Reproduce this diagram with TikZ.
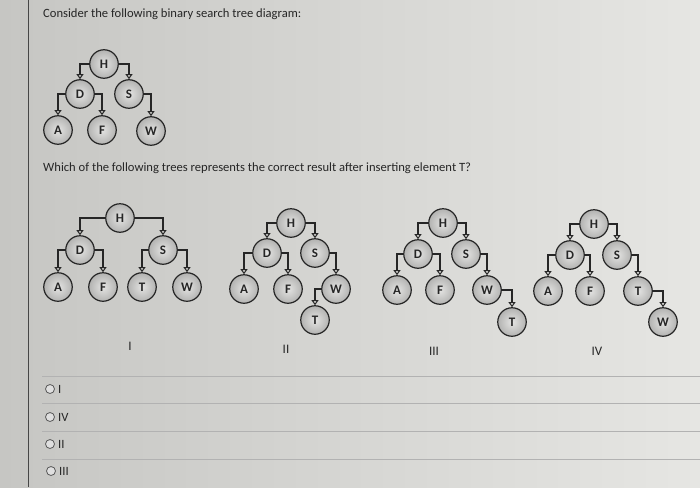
\documentclass[tikz,border=0pt]{standalone}
\usepackage{fontspec}
\setmainfont{Carlito}
\usetikzlibrary{arrows.meta}
\definecolor{bgL}{HTML}{C6C6C3}
\definecolor{bgR}{HTML}{E6E6E3}
\definecolor{ink}{HTML}{262626}
\definecolor{nodefill}{HTML}{D2D2D0}
\tikzset{
  bst/.style={circle, draw=ink, line width=1.2pt, inner color=nodefill!60!white, outer color=nodefill!85!black, minimum size=28.5pt, inner sep=0pt, font=\fontsize{13}{14}\selectfont\bfseries, text=ink},
  edge/.style={draw=ink, line width=1.1pt, -{Triangle[open, width=7pt, length=5pt, line width=1pt]}},
  txt/.style={anchor=west, inner sep=0pt, font=\fontsize{12.6}{14}\selectfont, text=ink},
  lab/.style={inner sep=0pt, font=\fontsize{13}{14}\selectfont, text=ink},
  radio/.style={circle, draw=gray!70!black, line width=0.8pt, fill=gray!25, minimum size=9pt, inner sep=0pt},
  sep/.style={draw=gray!60, line width=0.6pt}
}
\begin{document}
\begin{tikzpicture}[x=1pt,y=-1pt]
\useasboundingbox (0,0) rectangle (700,487);
\shade[left color=bgL, right color=bgR] (0,0) rectangle (700,487);
\draw[gray!55!black, line width=0.8pt] (28,0) -- (28,487);

\node[txt] (q1) at (43,14) {Consider the following binary search tree diagram:};
\node[txt] (q2) at (43,168) {Which of the following trees represents the correct result after inserting element T?};

% original tree
\node[bst] (H0) at (104,64) {H};
\node[bst] (D0) at (80,94) {D};
\node[bst] (S0) at (129,94) {S};
\node[bst] (A0) at (58,130) {A};
\node[bst] (F0) at (102,130) {F};
\node[bst] (W0) at (151,131) {W};
\draw[edge] (H0.west) -| (D0.north);
\draw[edge] (H0.east) -| (S0.north);
\draw[edge] (D0.west) -| (A0.north);
\draw[edge] (D0.east) -| (F0.north);
\draw[edge] (S0.east) -| (W0.north);

% tree I
\node[bst] (H1) at (120,218) {H};
\node[bst] (D1) at (80,250) {D};
\node[bst] (S1) at (163,250) {S};
\node[bst] (A1) at (58,287) {A};
\node[bst] (F1) at (103,287) {F};
\node[bst] (T1) at (142,287) {T};
\node[bst] (W1) at (187,287) {W};
\draw[edge] (H1.west) -| (D1.north);
\draw[edge] (H1.east) -| (S1.north);
\draw[edge] (D1.west) -| (A1.north);
\draw[edge] (D1.east) -| (F1.north);
\draw[edge] (S1.west) -| (T1.north);
\draw[edge] (S1.east) -| (W1.north);
\node[lab] (L1) at (130,346) {I};

% tree II
\node[bst] (H2) at (291,223) {H};
\node[bst] (D2) at (267,253) {D};
\node[bst] (S2) at (315,253) {S};
\node[bst] (A2) at (244,289) {A};
\node[bst] (F2) at (288,289) {F};
\node[bst] (W2) at (336,289) {W};
\node[bst] (T2) at (315,320) {T};
\draw[edge] (H2.west) -| (D2.north);
\draw[edge] (H2.east) -| (S2.north);
\draw[edge] (D2.west) -| (A2.north);
\draw[edge] (D2.east) -| (F2.north);
\draw[edge] (S2.east) -| (W2.north);
\draw[edge] (W2.west) -| (T2.north);
\node[lab] (L2) at (286,349) {II};

% tree III
\node[bst] (H3) at (443,223) {H};
\node[bst] (D3) at (418,254) {D};
\node[bst] (S3) at (466,254) {S};
\node[bst] (A3) at (397,290) {A};
\node[bst] (F3) at (440,290) {F};
\node[bst] (W3) at (487,290) {W};
\node[bst] (T3) at (512,322) {T};
\draw[edge] (H3.west) -| (D3.north);
\draw[edge] (H3.east) -| (S3.north);
\draw[edge] (D3.west) -| (A3.north);
\draw[edge] (D3.east) -| (F3.north);
\draw[edge] (S3.east) -| (W3.north);
\draw[edge] (W3.east) -| (T3.north);
\node[lab] (L3) at (434,351) {III};

% tree IV
\node[bst] (H4) at (594,224) {H};
\node[bst] (D4) at (570,255) {D};
\node[bst] (S4) at (617,255) {S};
\node[bst] (A4) at (548,291) {A};
\node[bst] (F4) at (590,291) {F};
\node[bst] (T4) at (638,291) {T};
\node[bst] (W4) at (663,322) {W};
\draw[edge] (H4.west) -| (D4.north);
\draw[edge] (H4.east) -| (S4.north);
\draw[edge] (D4.west) -| (A4.north);
\draw[edge] (D4.east) -| (F4.north);
\draw[edge] (S4.east) -| (T4.north);
\draw[edge] (T4.east) -| (W4.north);
\node[lab] (L4) at (597,351) {IV};

% options
\draw[sep] (42,376) -- (700,376);
\draw[sep] (42,403) -- (700,403);
\draw[sep] (42,431) -- (700,431);
\draw[sep] (42,459) -- (700,459);
\node[radio] (r1) at (50,389) {};
\node[radio] (r2) at (50,417) {};
\node[radio] (r3) at (50,444) {};
\node[radio] (r4) at (51,471) {};
\node[txt] (o1) at (58,389) {I};
\node[txt] (o2) at (58,417) {IV};
\node[txt] (o3) at (58,444) {II};
\node[txt] (o4) at (59,471) {III};
\end{tikzpicture}
\end{document}
